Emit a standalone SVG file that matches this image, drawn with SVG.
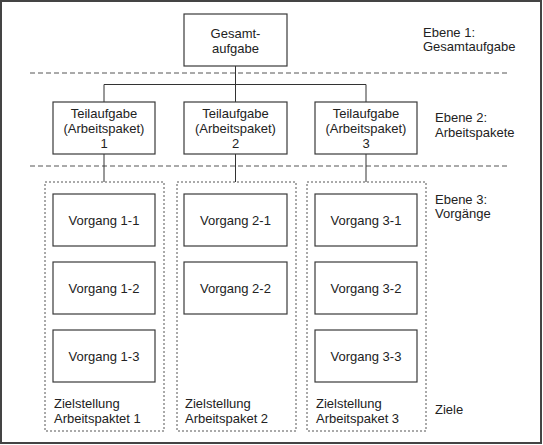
<svg xmlns="http://www.w3.org/2000/svg" width="543" height="445" viewBox="0 0 543 445">
<style>
.box{fill:#fff;stroke:#3a3a3a;stroke-width:1.2}
.grp{fill:none;stroke:#555;stroke-width:1;stroke-dasharray:2,2}
.sep{fill:none;stroke:#555;stroke-width:1;stroke-dasharray:5,3}
.con{fill:none;stroke:#333;stroke-width:1}
text{font-family:"Liberation Sans",Arial,sans-serif;font-size:13px;fill:#222}
.c{text-anchor:middle}
</style>
<rect x="1" y="1" width="540" height="442" fill="#fff" stroke="#444" stroke-width="2"/>
<g id="separators">
<line class="sep" x1="30" y1="73" x2="508" y2="73"/>
<line class="sep" x1="30" y1="166" x2="508" y2="166"/>
</g>
<g id="connectors">
<line class="con" x1="235.5" y1="66" x2="235.5" y2="102"/>
<polyline class="con" points="104,102 104,84.5 366,84.5 366,102"/>
<line class="con" x1="104" y1="154" x2="104" y2="182"/>
<line class="con" x1="235.5" y1="154" x2="235.5" y2="182"/>
<line class="con" x1="366" y1="154" x2="366" y2="182"/>
</g>
<g id="gesamt">
<rect class="box" x="184" y="14" width="103" height="52"/>
<text class="c" x="235.5" y="37.5">Gesamt-</text>
<text class="c" x="235.5" y="52.5">aufgabe</text>
</g>
<g id="tp1">
<rect class="box" x="53" y="102" width="102" height="52"/>
<text class="c" x="104" y="117.5">Teilaufgabe</text>
<text class="c" x="104" y="132.5">(Arbeitspaket)</text>
<text class="c" x="104" y="147.5">1</text>
</g>
<g id="tp2">
<rect class="box" x="184" y="102" width="103" height="52"/>
<text class="c" x="235.5" y="117.5">Teilaufgabe</text>
<text class="c" x="235.5" y="132.5">(Arbeitspaket)</text>
<text class="c" x="235.5" y="147.5">2</text>
</g>
<g id="tp3">
<rect class="box" x="315" y="102" width="102" height="52"/>
<text class="c" x="366" y="117.5">Teilaufgabe</text>
<text class="c" x="366" y="132.5">(Arbeitspaket)</text>
<text class="c" x="366" y="147.5">3</text>
</g>
<g id="ap1">
<rect class="grp" x="45" y="182" width="119" height="249"/>
<g id="v11"><rect class="box" x="53" y="194" width="102" height="52"/><text class="c" x="104" y="224.5">Vorgang 1-1</text></g>
<g id="v12"><rect class="box" x="53" y="262" width="102" height="52"/><text class="c" x="104" y="292.5">Vorgang 1-2</text></g>
<g id="v13"><rect class="box" x="53" y="330" width="102" height="52"/><text class="c" x="104" y="360.5">Vorgang 1-3</text></g>
<text x="54" y="408">Zielstellung</text>
<text x="54" y="423">Arbeitspaktet 1</text>
</g>
<g id="ap2">
<rect class="grp" x="177" y="182" width="119" height="249"/>
<g id="v21"><rect class="box" x="184" y="194" width="103" height="52"/><text class="c" x="235.5" y="224.5">Vorgang 2-1</text></g>
<g id="v22"><rect class="box" x="184" y="262" width="103" height="52"/><text class="c" x="235.5" y="292.5">Vorgang 2-2</text></g>
<text x="185" y="408">Zielstellung</text>
<text x="185" y="423">Arbeitspaket 2</text>
</g>
<g id="ap3">
<rect class="grp" x="307" y="182" width="119" height="249"/>
<g id="v31"><rect class="box" x="315" y="194" width="102" height="52"/><text class="c" x="366" y="224.5">Vorgang 3-1</text></g>
<g id="v32"><rect class="box" x="315" y="262" width="102" height="52"/><text class="c" x="366" y="292.5">Vorgang 3-2</text></g>
<g id="v33"><rect class="box" x="315" y="330" width="102" height="52"/><text class="c" x="366" y="360.5">Vorgang 3-3</text></g>
<text x="316" y="408">Zielstellung</text>
<text x="316" y="423">Arbeitspaket 3</text>
</g>
<g id="labels">
<text x="423" y="37">Ebene 1:</text>
<text x="423" y="51">Gesamtaufgabe</text>
<text x="435" y="122">Ebene 2:</text>
<text x="435" y="137">Arbeitspakete</text>
<text x="435" y="204">Ebene 3:</text>
<text x="435" y="218">Vorgänge</text>
<text x="435" y="414">Ziele</text>
</g>
</svg>
